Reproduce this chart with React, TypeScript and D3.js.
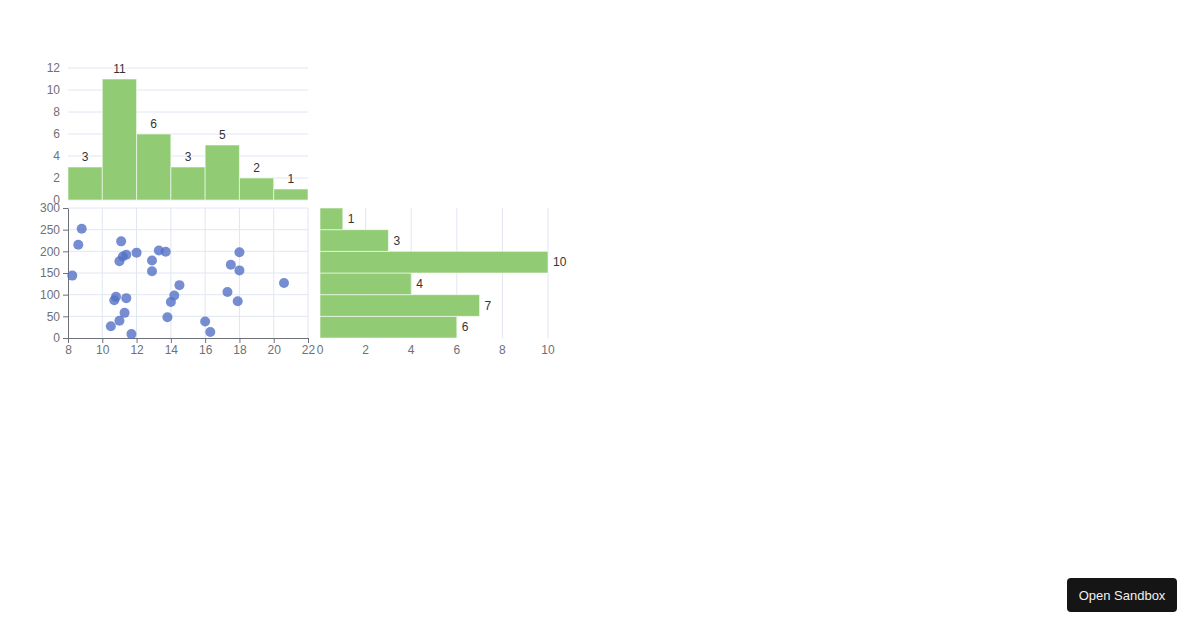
import React, { useEffect, useRef } from 'react';
import * as d3 from 'd3';

// scatter values (x, y)
const pointX = [8.25, 8.6, 8.8, 10.5, 10.7, 10.8, 11.0, 11.0, 11.1, 11.2, 11.4, 11.3, 11.4, 11.7, 12.0,
  12.9, 12.9, 13.3, 13.7, 13.8, 14.0, 14.2, 14.5, 16.0, 16.3, 17.3, 17.5, 17.9, 18.0, 18.0, 20.6];
const pointY = [144, 215, 252, 27, 87, 95, 40, 177, 223, 188, 192, 58, 92, 9, 197,
  179, 154, 202, 199, 48, 83, 98, 122, 38, 14, 106, 169, 85, 198, 156, 127];

// histogram along x (top)
const xBinEdges = [8, 10, 12, 14, 16, 18, 20, 22];
const xBinCounts = [3, 11, 6, 3, 5, 2, 1];

// histogram along y (right)
const yBinEdges = [0, 50, 100, 150, 200, 250, 300];
const yBinCounts = [6, 7, 4, 10, 3, 1];

const xTicks = [8, 10, 12, 14, 16, 18, 20, 22];
const yTicks = [0, 50, 100, 150, 200, 250, 300];
const countTicks = [0, 2, 4, 6, 8, 10, 12];
const rightTicks = [0, 2, 4, 6, 8, 10];

const FONT = '"Liberation Sans", Arial, sans-serif';
const AXIS_COLOR = '#6e7079';
const GRID_COLOR = '#e0e6f1';
const BAR_COLOR = '#91cc75';
const DOT_COLOR = '#5470c6';

const App: React.FC = () => {
  const svgRef = useRef<SVGSVGElement>(null);

  useEffect(() => {
    if (!svgRef.current) return;
    const svg = d3.select(svgRef.current);
    svg.selectAll('*').remove();

    // Scales
    const x = d3.scaleLinear().domain([8, 22]).range([68, 308]);
    const topY = d3.scaleLinear().domain([0, 12]).range([200, 68]);
    const y = d3.scaleLinear().domain([0, 300]).range([338, 208]);
    const rightX = d3.scaleLinear().domain([0, 10]).range([320, 548]);

    const styleText = (sel: any) => sel
      .style('font-family', FONT)
      .style('font-size', '12px');

    // ---------- Top histogram ----------
    const top = svg.append('g');
    top.selectAll('.grid')
      .data(countTicks)
      .join('line')
      .attr('x1', x(8)).attr('x2', x(22))
      .attr('y1', d => topY(d)).attr('y2', d => topY(d))
      .attr('stroke', GRID_COLOR);

    top.selectAll('.ylab')
      .data(countTicks)
      .join('text')
      .attr('x', 60)
      .attr('y', d => topY(d))
      .attr('dy', '0.35em')
      .attr('text-anchor', 'end')
      .attr('fill', AXIS_COLOR)
      .text(d => d)
      .call(styleText);

    const topBins = xBinCounts.map((c, i) => ({ x0: xBinEdges[i], x1: xBinEdges[i + 1], c }));
    top.selectAll('.bar')
      .data(topBins)
      .join('rect')
      .attr('x', d => x(d.x0))
      .attr('y', d => topY(d.c))
      .attr('width', d => x(d.x1) - x(d.x0))
      .attr('height', d => topY(0) - topY(d.c))
      .attr('fill', BAR_COLOR)
      .attr('stroke', 'rgba(255,255,255,0.55)')
      .attr('stroke-width', 1);

    top.selectAll('.val')
      .data(topBins)
      .join('text')
      .attr('x', d => (x(d.x0) + x(d.x1)) / 2)
      .attr('y', d => topY(d.c) - 6)
      .attr('text-anchor', 'middle')
      .attr('fill', '#333')
      .text(d => d.c)
      .call(styleText);

    // ---------- Scatter ----------
    const sc = svg.append('g');
    sc.append('g')
      .selectAll('line')
      .data(xTicks.slice(1))
      .join('line')
      .attr('x1', d => x(d)).attr('x2', d => x(d))
      .attr('y1', y(300)).attr('y2', y(0))
      .attr('stroke', GRID_COLOR);
    sc.append('g')
      .selectAll('line')
      .data(yTicks.slice(1))
      .join('line')
      .attr('x1', x(8)).attr('x2', x(22))
      .attr('y1', d => y(d)).attr('y2', d => y(d))
      .attr('stroke', GRID_COLOR);

    const xAxis = sc.append('g')
      .attr('transform', `translate(0,${y(0)})`)
      .call(d3.axisBottom(x).tickValues(xTicks).tickSize(5).tickPadding(2).tickSizeOuter(0));
    const yAxis = sc.append('g')
      .attr('transform', `translate(${x(8)},0)`)
      .call(d3.axisLeft(y).tickValues(yTicks).tickSize(5).tickPadding(3).tickSizeOuter(0));
    [xAxis, yAxis].forEach(a => {
      a.select('.domain').attr('stroke', AXIS_COLOR);
      a.selectAll('.tick line').attr('stroke', AXIS_COLOR);
      a.selectAll('.tick text').attr('fill', AXIS_COLOR)
        .style('font-family', FONT).style('font-size', '12px');
    });

    const points = pointX.map((px, i) => ({ px, py: pointY[i] }));
    sc.selectAll('circle')
      .data(points)
      .join('circle')
      .attr('cx', d => x(d.px))
      .attr('cy', d => y(d.py))
      .attr('r', 5)
      .attr('fill', DOT_COLOR)
      .attr('fill-opacity', 0.8);

    // ---------- Right histogram ----------
    const right = svg.append('g');
    right.selectAll('.grid')
      .data(rightTicks.slice(1))
      .join('line')
      .attr('x1', d => rightX(d)).attr('x2', d => rightX(d))
      .attr('y1', y(300)).attr('y2', y(0))
      .attr('stroke', GRID_COLOR);

    right.selectAll('.xlab')
      .data(rightTicks)
      .join('text')
      .attr('x', d => rightX(d))
      .attr('y', y(0) + 7)
      .attr('dy', '0.71em')
      .attr('text-anchor', 'middle')
      .attr('fill', AXIS_COLOR)
      .text(d => d)
      .call(styleText);

    const rightBins = yBinCounts.map((c, i) => ({ y0: yBinEdges[i], y1: yBinEdges[i + 1], c }));
    right.selectAll('.bar')
      .data(rightBins)
      .join('rect')
      .attr('x', rightX(0))
      .attr('y', d => y(d.y1))
      .attr('width', d => rightX(d.c) - rightX(0))
      .attr('height', d => y(d.y0) - y(d.y1))
      .attr('fill', BAR_COLOR)
      .attr('stroke', 'rgba(255,255,255,0.55)')
      .attr('stroke-width', 1);

    right.selectAll('.val')
      .data(rightBins)
      .join('text')
      .attr('x', d => rightX(d.c) + 5)
      .attr('y', d => (y(d.y0) + y(d.y1)) / 2)
      .attr('dy', '0.35em')
      .attr('fill', '#333')
      .text(d => d.c)
      .call(styleText);
  }, []);

  return (
    <div style={{ position: 'absolute', left: 0, top: 0, width: 1200, height: 630, background: '#fff' }}>
      <svg ref={svgRef} width={1200} height={630} style={{ display: 'block', position: 'absolute', left: 0, top: 0 }} />
      <svg width={1200} height={630} style={{ display: 'block', position: 'absolute', left: 0, top: 0, pointerEvents: 'none' }}>
        <rect x={1067} y={578} width={110} height={34} rx={4} fill="#151515" />
        <text x={1122} y={595} dy="0.35em" textAnchor="middle" fill="#f0f0f0"
          style={{ fontFamily: FONT, fontSize: 13 }}>Open Sandbox</text>
      </svg>
    </div>
  );
};

export default App;
